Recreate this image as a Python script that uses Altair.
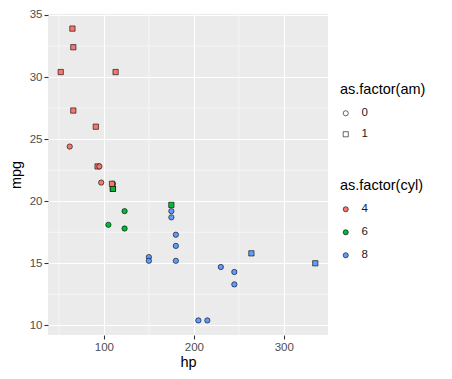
import altair as alt
import pandas as pd

hp = [110, 110, 93, 110, 175, 105, 245, 62, 95, 123, 123, 180, 180, 180, 205, 215,
      230, 66, 52, 65, 97, 150, 150, 245, 175, 66, 91, 113, 264, 175, 335, 109]
mpg = [21.0, 21.0, 22.8, 21.4, 18.7, 18.1, 14.3, 24.4, 22.8, 19.2, 17.8, 16.4, 17.3, 15.2,
       10.4, 10.4, 14.7, 32.4, 30.4, 33.9, 21.5, 15.5, 15.2, 13.3, 19.2, 27.3, 26.0, 30.4,
       15.8, 19.7, 15.0, 21.4]
cyl = [6, 6, 4, 6, 8, 6, 8, 4, 4, 6, 6, 8, 8, 8, 8, 8, 8, 4, 4, 4, 4, 8, 8, 8, 8, 4, 4, 4,
       8, 6, 8, 4]
am = [1, 1, 1, 0, 0, 0, 0, 0, 0, 0, 0, 0, 0, 0, 0, 0, 0, 1, 1, 1, 0, 0, 0, 0, 0, 1, 1, 1,
      1, 1, 1, 1]

x_major = [100, 200, 300]
x_minor = [50, 150, 250]
y_major = [10, 15, 20, 25, 30, 35]
y_minor = [12.5, 17.5, 22.5, 27.5, 32.5]

df = pd.DataFrame({"hp": hp, "mpg": mpg,
                   "cyl": [str(c) for c in cyl], "am": [str(a) for a in am]})

xdom = [37.85, 349.15]
ydom = [9.225, 35.075]
font = "Liberation Sans"

xscale = alt.Scale(domain=xdom, nice=False, zero=False)
yscale = alt.Scale(domain=ydom, nice=False, zero=False)

xaxis = alt.Axis(values=x_major, title="hp", grid=True, gridColor="white", gridWidth=1.1,
                 domain=False, tickColor="#333333", tickSize=4, tickWidth=1.1,
                 labelColor="#4d4d4d", labelFontSize=11.5, labelFont=font, labelPadding=2,
                 titleFont=font, titleFontSize=14.5, titleFontWeight="normal",
                 titleColor="black", titlePadding=3)
yaxis = alt.Axis(values=y_major, title="mpg", grid=True, gridColor="white", gridWidth=1.1,
                 domain=False, tickColor="#333333", tickSize=4, tickWidth=1.1,
                 labelColor="#4d4d4d", labelFontSize=11.5, labelFont=font, labelPadding=2,
                 titleFont=font, titleFontSize=14.5, titleFontWeight="normal",
                 titleColor="black", titlePadding=6)

vminor = alt.Chart(pd.DataFrame({"v": x_minor})).mark_rule(
    color="white", strokeWidth=0.55).encode(
    x=alt.X("v:Q", scale=xscale, axis=xaxis))
hminor = alt.Chart(pd.DataFrame({"v": y_minor})).mark_rule(
    color="white", strokeWidth=0.55).encode(
    y=alt.Y("v:Q", scale=yscale, axis=yaxis))

points = alt.Chart(df).mark_point(filled=True, stroke="black", strokeWidth=0.6,
                                  size=28, opacity=1).encode(
    x=alt.X("hp:Q", scale=xscale, axis=xaxis),
    y=alt.Y("mpg:Q", scale=yscale, axis=yaxis),
    fill=alt.Fill("cyl:N",
                  scale=alt.Scale(domain=["4", "6", "8"],
                                  range=["#F8766D", "#00BA38", "#619CFF"]),
                  legend=alt.Legend(title="as.factor(cyl)", orient="none",
                                    legendX=292, legendY=165,
                                    symbolType="circle", symbolSize=26,
                                    symbolStrokeColor="black", symbolStrokeWidth=0.6,
                                    rowPadding=10, titlePadding=10,
                                    titleFont=font, titleFontSize=14.5,
                                    titleFontWeight="normal", titleColor="black",
                                    labelFont=font, labelFontSize=11.5,
                                    labelColor="#1a1a1a", labelOffset=10,
                                    offset=0, padding=0)),
    shape=alt.Shape("am:N",
                    scale=alt.Scale(domain=["0", "1"], range=["circle", "square"]),
                    legend=alt.Legend(title="as.factor(am)", orient="none",
                                      legendX=292, legendY=69,
                                      symbolSize=26, symbolFillColor="transparent",
                                      symbolStrokeColor="black", symbolStrokeWidth=0.6,
                                      rowPadding=8, titlePadding=10,
                                      titleFont=font, titleFontSize=14.5,
                                      titleFontWeight="normal", titleColor="black",
                                      labelFont=font, labelFontSize=11.5,
                                      labelColor="#1a1a1a", labelOffset=10,
                                      offset=0, padding=0)),
)

chart = alt.layer(vminor, hminor, points).properties(
    width=280, height=321,
    autosize=alt.AutoSizeParams(type="none"),
    padding={"left": 40, "top": 6, "right": 116, "bottom": 36},
).configure(background="white").configure_view(fill="#EBEBEB", stroke=None)

chart.save("out.html", embed_options={"renderer": "svg", "actions": False})
